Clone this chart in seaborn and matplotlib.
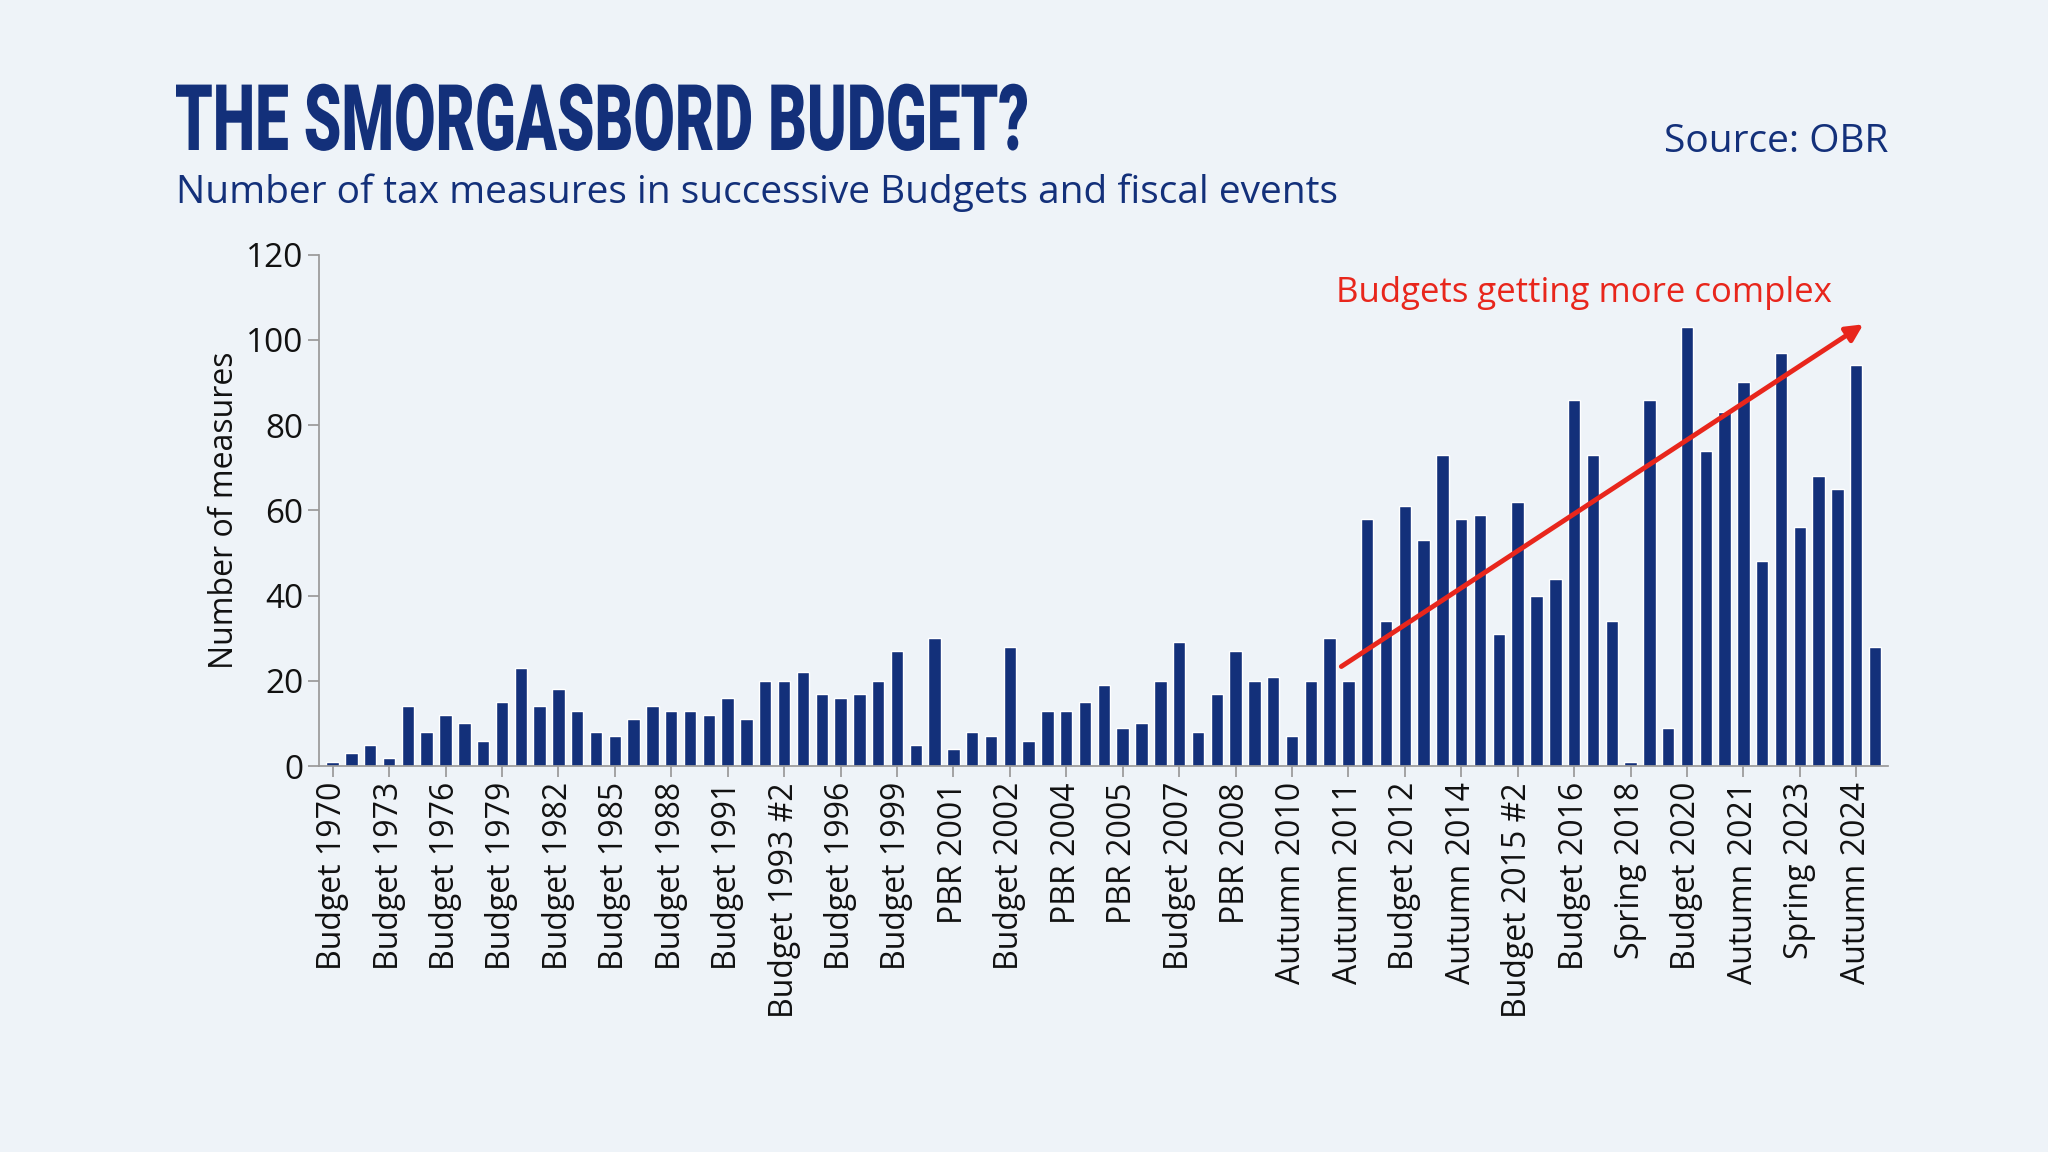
import numpy as np
import pandas as pd
import matplotlib.pyplot as plt
import seaborn as sns
from matplotlib.textpath import TextPath
from matplotlib.patches import PathPatch
from matplotlib.font_manager import FontProperties
from matplotlib.transforms import Affine2D

# measures per fiscal event, in order (83 events, 1970 -> 2025)
measures = [1, 3, 5, 2, 14, 8, 12, 10, 6, 15, 23, 14, 18, 13, 8, 7, 11, 14, 13, 13,
            12, 16, 11, 20, 20, 22, 17, 16, 17, 20, 27, 5, 30, 4, 8, 7, 28, 6, 13, 13,
            15, 19, 9, 10, 20, 29, 8, 17, 27, 20, 21, 7, 20, 30, 20, 58, 34, 61, 53, 73,
            58, 59, 31, 62, 40, 44, 86, 73, 34, 1, 86, 9, 103, 74, 83, 90, 48, 97, 56, 68,
            65, 94, 28]
tick_labels = ["Budget 1970", "Budget 1973", "Budget 1976", "Budget 1979", "Budget 1982",
               "Budget 1985", "Budget 1988", "Budget 1991", "Budget 1993 #2", "Budget 1996",
               "Budget 1999", "PBR 2001", "Budget 2002", "PBR 2004", "PBR 2005", "Budget 2007",
               "PBR 2008", "Autumn 2010", "Autumn 2011", "Budget 2012", "Autumn 2014",
               "Budget 2015 #2", "Budget 2016", "Spring 2018", "Budget 2020", "Autumn 2021",
               "Spring 2023", "Autumn 2024"]
title = "THE SMORGASBORD BUDGET?"

navy = "#13307a"
red = "#e8261c"
df = pd.DataFrame({"event": range(len(measures)), "measures": measures})

sns.set_theme(style="white")
plt.rcParams['font.family'] = ['Open Sans', 'DejaVu Sans']

fig = plt.figure(figsize=(20.48, 11.52), dpi=100)
fig.patch.set_facecolor("#eef3f8")
ax = fig.add_axes([0.156, 0.335, 0.766, 0.444])
ax.set_facecolor("none")
sns.barplot(data=df, x="event", y="measures", color=navy, width=0.66, saturation=1, ax=ax)

ax.set_ylim(0, 120)
ax.set_yticks(range(0, 121, 20))
ax.set_xticks(range(0, len(measures), 3))
ax.set_xticklabels(tick_labels, rotation=90, fontsize=23, color="#111")
ax.tick_params(axis="y", labelsize=24, colors="#111", left=True, length=8, color="#999")
ax.tick_params(axis="x", bottom=True, length=8, color="#999")
ax.set_xlim(-0.7, len(measures) - 0.3)
ax.set_xlabel("")
ax.set_ylabel("Number of measures", fontsize=23, color="#111")
for s in ["top", "right"]:
    ax.spines[s].set_visible(False)
for s in ["left", "bottom"]:
    ax.spines[s].set_color("#999")

ax.annotate("", xy=(81.5, 104), xytext=(53.5, 23),
            arrowprops=dict(arrowstyle="-|>", color=red, lw=3.5, mutation_scale=25))
ax.text(66.5, 111, "Budgets getting more complex", color=red, fontsize=25, ha="center", va="center")

# condensed title: squeeze a bold glyph path horizontally (pixel coords)
tp = TextPath((0, 0), title, size=92, prop=FontProperties(family="Roboto", weight="black"))
ext = tp.get_extents()
sx = 851 / ext.width
tr = Affine2D().translate(-ext.x0, 0).scale(sx, 1).translate(176, 1002)
fig.add_artist(PathPatch(tp, transform=tr, color=navy, lw=0))

fig.text(0.086, 0.833, "Number of tax measures in successive Budgets and fiscal events",
         fontsize=28, color=navy, va="center")
fig.text(0.922, 0.877, "Source: OBR", fontsize=28, color=navy, ha="right", va="center")

fig.savefig("out.png", dpi=100, facecolor=fig.get_facecolor())
